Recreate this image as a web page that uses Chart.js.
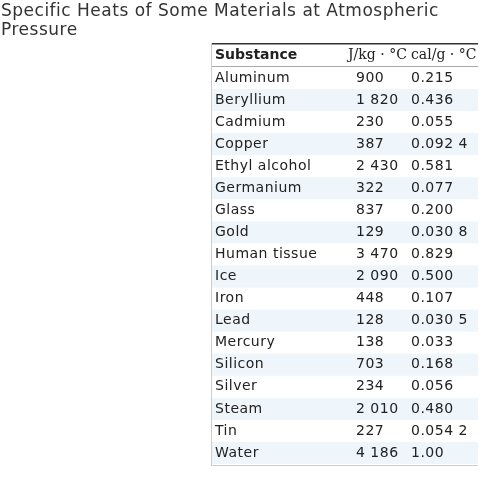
<!DOCTYPE html>
<html>
<head>
<meta charset="UTF-8">
<script src="https://cdn.jsdelivr.net/npm/chart.js"></script>
<style>body{margin:0;background:#fff}#wrap{width:487px;height:491px}</style>
</head>
<body>
<div id="wrap"><canvas id="myChart"></canvas></div>
<script>
const titleLines = ['Specific Heats of Some Materials at Atmospheric', 'Pressure'];
const headers = ['Substance', 'J/kg · °C', 'cal/g · °C'];
const substances = ['Aluminum','Beryllium','Cadmium','Copper','Ethyl alcohol','Germanium','Glass','Gold','Human tissue','Ice','Iron','Lead','Mercury','Silicon','Silver','Steam','Tin','Water'];
const jPerKg = ['900','1 820','230','387','2 430','322','837','129','3 470','2 090','448','128','138','703','234','2 010','227','4 186'];
const calPerG = ['0.215','0.436','0.055','0.092 4','0.581','0.077','0.200','0.030 8','0.829','0.500','0.107','0.030 5','0.033','0.168','0.056','0.480','0.054 2','1.00'];

const tablePlugin = {
    id: 'table',
    beforeDatasetsDraw(chart) {
        const ctx = chart.ctx, y = chart.scales.y, a = chart.chartArea;
        const half = y.getPixelForValue(1) - y.getPixelForValue(0);
        ctx.save();
        // stripes
        ctx.fillStyle = '#eef5fb';
        substances.forEach((s, i) => {
            if (i % 2 === 1) ctx.fillRect(a.left, y.getPixelForValue(i) - half / 2, a.right - a.left, half);
        });
        // lines
        ctx.fillStyle = '#333';
        ctx.fillRect(a.left, 43, a.right - a.left, 1.5);
        ctx.fillStyle = '#aaa';
        ctx.fillRect(a.left, a.top - 1, a.right - a.left, 1);
        ctx.fillStyle = '#ccc';
        ctx.fillRect(a.left, a.bottom + 1, a.right - a.left, 1);
        ctx.fillRect(a.left, 43, 1, a.bottom - 42);
        // title
        ctx.fillStyle = '#333';
        ctx.letterSpacing = '0.5px';
        ctx.font = '17px "DejaVu Sans"';
        ctx.textBaseline = 'middle';
        ctx.textAlign = 'left';
        titleLines.forEach((t, i) => ctx.fillText(t, 1, 12 + i * 19));
        // header
        ctx.fillStyle = '#222';
        ctx.letterSpacing = '0px';
        ctx.font = 'bold 14px "DejaVu Sans"';
        ctx.fillText(headers[0], 215, 55);
        ctx.font = '14px "DejaVu Serif"';
        ctx.fillText(headers[1], 348, 55);
        ctx.fillText(headers[2], 411, 55);
        // rows
        ctx.letterSpacing = '0.5px';
        ctx.font = '14px "DejaVu Sans"';
        ctx.fillStyle = '#222';
        substances.forEach((s, i) => {
            const py = y.getPixelForValue(i);
            ctx.fillText(s, 215, py);
            ctx.fillText(jPerKg[i], 356, py);
            ctx.fillText(calPerG[i], 411, py);
        });
        ctx.restore();
    }
};

new Chart(document.getElementById('myChart'), {
    type: 'bar',
    data: { labels: substances, datasets: [{ data: substances.map(() => 0) }] },
    options: {
        responsive: true,
        maintainAspectRatio: false,
        animation: false,
        indexAxis: 'y',
        layout: { padding: { top: 67, bottom: 27, left: 211, right: 9 } },
        plugins: { legend: { display: false }, tooltip: { enabled: false }, title: { display: false } },
        scales: {
            x: { display: false, min: 0, max: 1 },
            y: { display: false, offset: true }
        }
    },
    plugins: [tablePlugin]
});
</script>
</body>
</html>
